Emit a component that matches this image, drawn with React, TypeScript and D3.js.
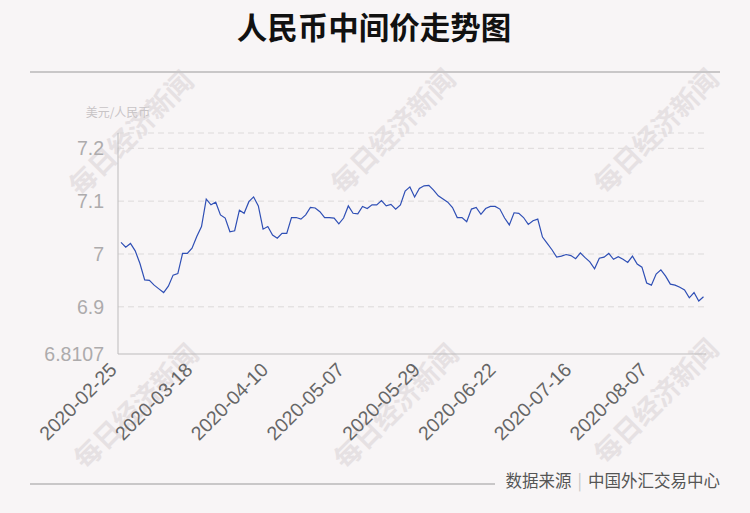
import React from "react";
import * as d3 from "d3";

const dates: string[] = [
  "2020-02-25","2020-02-26","2020-02-27","2020-02-28",
  "2020-03-02","2020-03-03","2020-03-04","2020-03-05","2020-03-06",
  "2020-03-09","2020-03-10","2020-03-11","2020-03-12","2020-03-13",
  "2020-03-16","2020-03-17","2020-03-18","2020-03-19","2020-03-20",
  "2020-03-23","2020-03-24","2020-03-25","2020-03-26","2020-03-27",
  "2020-03-30","2020-03-31","2020-04-01","2020-04-02","2020-04-03",
  "2020-04-07","2020-04-08","2020-04-09","2020-04-10",
  "2020-04-13","2020-04-14","2020-04-15","2020-04-16","2020-04-17",
  "2020-04-20","2020-04-21","2020-04-22","2020-04-23","2020-04-24",
  "2020-04-27","2020-04-28","2020-04-29","2020-04-30",
  "2020-05-06","2020-05-07","2020-05-08",
  "2020-05-11","2020-05-12","2020-05-13","2020-05-14","2020-05-15",
  "2020-05-18","2020-05-19","2020-05-20","2020-05-21","2020-05-22",
  "2020-05-25","2020-05-26","2020-05-27","2020-05-28","2020-05-29",
  "2020-06-01","2020-06-02","2020-06-03","2020-06-04","2020-06-05",
  "2020-06-08","2020-06-09","2020-06-10","2020-06-11","2020-06-12",
  "2020-06-15","2020-06-16","2020-06-17","2020-06-18","2020-06-19",
  "2020-06-22","2020-06-23","2020-06-24","2020-06-29","2020-06-30",
  "2020-07-01","2020-07-02","2020-07-03",
  "2020-07-06","2020-07-07","2020-07-08","2020-07-09","2020-07-10",
  "2020-07-13","2020-07-14","2020-07-15","2020-07-16","2020-07-17",
  "2020-07-20","2020-07-21","2020-07-22","2020-07-23","2020-07-24",
  "2020-07-27","2020-07-28","2020-07-29","2020-07-30","2020-07-31",
  "2020-08-03","2020-08-04","2020-08-05","2020-08-06","2020-08-07",
  "2020-08-10","2020-08-11","2020-08-12","2020-08-13","2020-08-14",
  "2020-08-17","2020-08-18","2020-08-19","2020-08-20","2020-08-21",
  "2020-08-24"
];

const rates: number[] = [
  7.022, 7.013, 7.020, 7.006, 6.982, 6.951, 6.950, 6.941, 6.934, 6.927,
  6.939, 6.960, 6.963, 7.001, 7.001, 7.011, 7.033, 7.052, 7.104, 7.093,
  7.098, 7.074, 7.068, 7.042, 7.044, 7.083, 7.077, 7.099, 7.108, 7.091,
  7.047, 7.052, 7.036, 7.030, 7.039, 7.039, 7.069, 7.069, 7.066, 7.074,
  7.088, 7.087, 7.080, 7.069, 7.069, 7.068, 7.057, 7.068, 7.091, 7.077,
  7.076, 7.090, 7.086, 7.093, 7.093, 7.101, 7.091, 7.094, 7.085, 7.093,
  7.119, 7.127, 7.108, 7.124, 7.129, 7.130, 7.121, 7.110, 7.104, 7.098,
  7.088, 7.069, 7.069, 7.061, 7.085, 7.088, 7.075, 7.086, 7.090, 7.090,
  7.085, 7.068, 7.055, 7.078, 7.077, 7.069, 7.056, 7.063, 7.066, 7.032,
  7.020, 7.008, 6.994, 6.996, 6.999, 6.997, 6.991, 7.002, 6.993, 6.985,
  6.972, 6.992, 6.994, 7.001, 6.990, 6.995, 6.990, 6.984, 6.996, 6.981,
  6.975, 6.945, 6.941, 6.962, 6.970, 6.958, 6.943, 6.941, 6.937, 6.932,
  6.917, 6.927, 6.911, 6.919
];

const xTickLabels: string[] = [
  "2020-02-25","2020-03-18","2020-04-10","2020-05-07",
  "2020-05-29","2020-06-22","2020-07-16","2020-08-07"
];

const yTicks: number[] = [6.8107, 6.9, 7.0, 7.1, 7.2];
const yGrid: number[] = [6.9, 7.0, 7.1, 7.2, 7.229];
const yMin = 6.8107;
const yMax = 7.229;

const watermarkCenters: [number, number][] = [
  [130, 132], [392, 130], [655, 130],
  [135, 405], [395, 405], [655, 400]
];

const W = 750;
const H = 513;
const numFont = "'Liberation Sans', Arial, 'Noto Sans CJK SC', sans-serif";
const cjkFont = "'Noto Sans CJK SC', 'Liberation Sans', sans-serif";

export default function App() {
  const x = d3.scalePoint<string>().domain(dates).range([121, 703.5]);
  const y = d3.scaleLinear().domain([yMin, yMax]).range([354, 133]);
  const line = d3
    .line<number>()
    .x((_, i) => x(dates[i]) as number)
    .y((d) => y(d));

  const fmt = (v: number) => (v === yMin ? String(yMin) : d3.format("~g")(v));

  return (
    <div style={{ position: "fixed", left: 0, top: 0, width: W, height: H }}>
      <svg width={W} height={H} style={{ display: "block" }}>
        <rect x={0} y={0} width={W} height={H} fill="#f8f5f6" />
        {watermarkCenters.map(([cx, cy], i) => (
          <text
            key={"wm" + i}
            transform={`translate(${cx},${cy}) rotate(-45)`}
            textAnchor="middle"
            dominantBaseline="central"
            fontFamily={cjkFont}
            fontWeight={700}
            fontSize={27}
            fill="#e6e1e3"
          >
            每日经济新闻
          </text>
        ))}
        <text
          x={374}
          y={39}
          textAnchor="middle"
          fontFamily={cjkFont}
          fontWeight={700}
          fontSize={30.5}
          fill="#111"
        >
          人民币中间价走势图
        </text>
        <line x1={30} x2={720} y1={72} y2={72} stroke="#c9c7c8" strokeWidth={2} />

        <text
          x={118}
          y={111}
          textAnchor="middle"
          dominantBaseline="central"
          fontFamily={cjkFont}
          fontSize={12}
          fill="#c8c4c6"
        >
          美元/人民币
        </text>

        {yGrid.map((v) => (
          <line
            key={"g" + v}
            x1={118}
            x2={706}
            y1={y(v)}
            y2={y(v)}
            stroke="#dddada"
            strokeWidth={1}
            strokeDasharray="6,4"
          />
        ))}
        <line x1={118} x2={118} y1={133} y2={354} stroke="#bdbbbc" strokeWidth={1} />
        <line x1={118} x2={706} y1={354} y2={354} stroke="#bdbbbc" strokeWidth={1} />

        {yTicks.map((v) => (
          <text
            key={"yt" + v}
            x={104}
            y={y(v)}
            textAnchor="end"
            dominantBaseline="central"
            fontFamily={numFont}
            fontSize={19.5}
            fill="#adabac"
          >
            {fmt(v)}
          </text>
        ))}

        {xTickLabels.map((d) => (
          <text
            key={"xt" + d}
            transform={`translate(${(x(d) as number) - 3},${371}) rotate(-45)`}
            textAnchor="end"
            fontFamily={numFont}
            fontSize={19.5}
            fill="#666"
          >
            {d}
          </text>
        ))}

        <path d={line(rates) || ""} fill="none" stroke="#2f4fb5" strokeWidth={1.2} />

        <line x1={30} x2={495} y1={484} y2={484} stroke="#c9c7c8" strokeWidth={2} />
        <text
          x={720}
          y={480}
          textAnchor="end"
          dominantBaseline="central"
          fontFamily={cjkFont}
          fontSize={16.5}
          fill="#555"
        >
          <tspan>数据来源</tspan>
          <tspan fill="#c8c8c8" dx={6}>|</tspan>
          <tspan dx={6}>中国外汇交易中心</tspan>
        </text>
      </svg>
    </div>
  );
}
